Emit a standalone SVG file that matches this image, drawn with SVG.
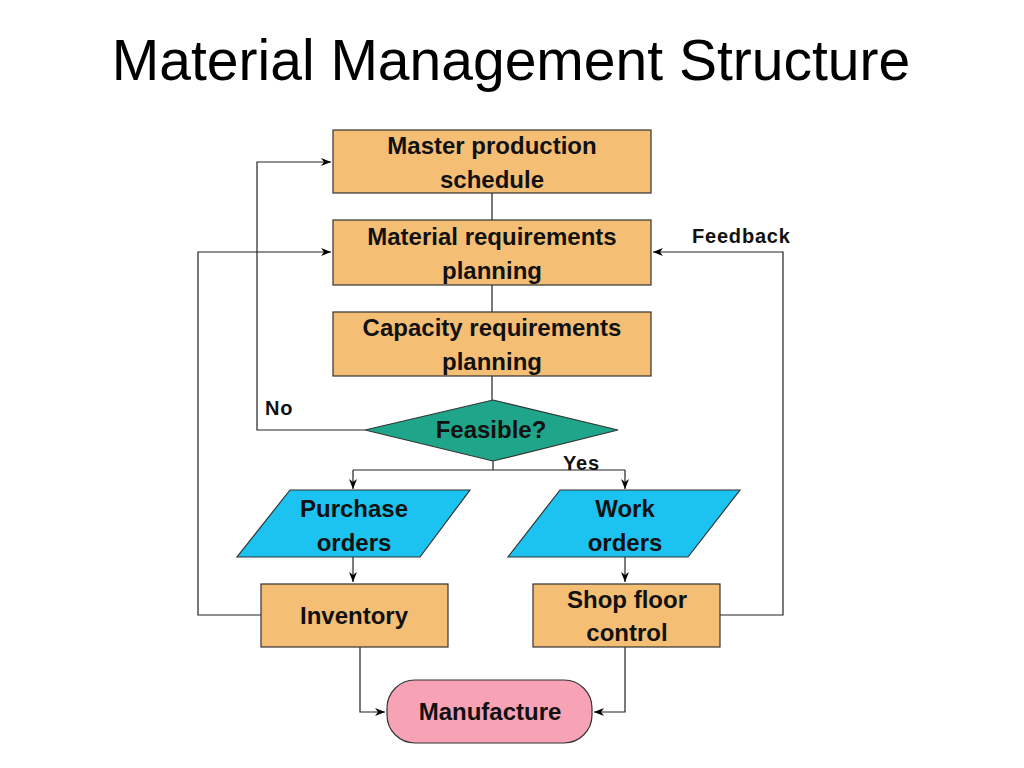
<svg xmlns="http://www.w3.org/2000/svg" width="1024" height="768" viewBox="0 0 1024 768">
<defs>
<marker id="a" markerWidth="10" markerHeight="8" refX="10" refY="4" orient="auto" markerUnits="userSpaceOnUse"><path d="M0,0 L10,4 L0,8 L3,4 Z" fill="#000"/></marker>
</defs>
<style>
.b{fill:#F4BF75;stroke:#333;stroke-width:1.2}
.p{fill:#1DC3F0;stroke:#333;stroke-width:1.2}
.t{font-family:"Liberation Sans",Arial,sans-serif;font-weight:bold;font-size:24px;text-anchor:middle;fill:#111}
.l{font-family:"Liberation Sans",Arial,sans-serif;font-weight:bold;font-size:20px;letter-spacing:0.8px;fill:#111}
.c{fill:none;stroke:#222;stroke-width:1.2}
</style>
<rect width="1024" height="768" fill="#fff"/>
<text x="511" y="80" font-family="Liberation Sans,Arial,sans-serif" font-size="57" text-anchor="middle">Material Management Structure</text>
<g id="connectors">
<path class="c" d="M492,193V220M492,285V312M492,376V400"/>
<path class="c" d="M365,430H257V162H331" marker-end="url(#a)"/>
<path class="c" d="M493,461V470M353,470H625"/>
<path class="c" d="M353,470V489" marker-end="url(#a)"/>
<path class="c" d="M625,470V489" marker-end="url(#a)"/>
<path class="c" d="M353,557V582" marker-end="url(#a)"/>
<path class="c" d="M625,557V582" marker-end="url(#a)"/>
<path class="c" d="M261,615H198V252H331" marker-end="url(#a)"/>
<path class="c" d="M720,615H783V252H653" marker-end="url(#a)"/>
<path class="c" d="M360,647V712H385" marker-end="url(#a)"/>
<path class="c" d="M625,647V712H594" marker-end="url(#a)"/>
<text class="l" x="265" y="415">No</text>
<text class="l" x="563" y="470">Yes</text>
<text class="l" x="692" y="243">Feedback</text>
</g>
<g id="mps"><rect class="b" x="333" y="130" width="318" height="63"/><text class="t" x="492" y="154">Master production</text><text class="t" x="492" y="188">schedule</text></g>
<g id="mrp"><rect class="b" x="333" y="220" width="318" height="65"/><text class="t" x="492" y="245">Material requirements</text><text class="t" x="492" y="279">planning</text></g>
<g id="crp"><rect class="b" x="333" y="312" width="318" height="64"/><text class="t" x="492" y="336">Capacity requirements</text><text class="t" x="492" y="370">planning</text></g>
<g id="feasible"><polygon points="365,430 493,400 618,430 493,461" fill="#1FA68A" stroke="#333" stroke-width="1.2"/><text class="t" x="491" y="438">Feasible?</text></g>
<g id="purchase"><polygon class="p" points="290,490 470,490 420,557 237,557"/><text class="t" x="354" y="517">Purchase</text><text class="t" x="354" y="551">orders</text></g>
<g id="work"><polygon class="p" points="560,490 740,490 688,557 508,557"/><text class="t" x="625" y="517">Work</text><text class="t" x="625" y="551">orders</text></g>
<g id="inventory"><rect class="b" x="261" y="584" width="187" height="63"/><text class="t" x="354" y="624">Inventory</text></g>
<g id="shop"><rect class="b" x="533" y="584" width="187" height="63"/><text class="t" x="627" y="608">Shop floor</text><text class="t" x="627" y="641">control</text></g>
<g id="manufacture"><rect x="387" y="680" width="205" height="63" rx="28" fill="#F7A3B5" stroke="#333" stroke-width="1.2"/><text class="t" x="490" y="720">Manufacture</text></g>
</svg>
